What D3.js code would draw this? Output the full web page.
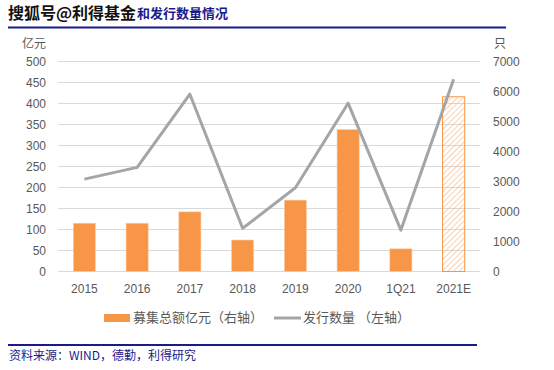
<!DOCTYPE html>
<html>
<head>
<meta charset="utf-8">
<script src="https://cdn.jsdelivr.net/npm/d3@7"></script>
<style>
  body { margin: 0; background: #fff; }
  svg { font-family: "Noto Sans CJK SC", "Noto Sans", sans-serif; }
</style>
</head>
<body>
<div id="chart"></div>
<script>
// data
var categories = ["2015", "2016", "2017", "2018", "2019", "2020", "1Q21", "2021E"];
var amount = [115, 115, 142, 75, 170, 338, 54, 416];          // 募集总额 亿元
var count = [3080, 3470, 5910, 1440, 2790, 5610, 1380, 6410]; // 发行数量 只
var leftTicks = [0, 50, 100, 150, 200, 250, 300, 350, 400, 450, 500];
var rightTicks = [0, 1000, 2000, 3000, 4000, 5000, 6000, 7000];

var W = 554, H = 370;
var plot = {left: 58, right: 480, top: 61.5, bottom: 271.5};

var svg = d3.select("#chart").append("svg")
    .attr("width", W).attr("height", H);

// hatch for the estimate bar
var defs = svg.append("defs");
defs.append("pattern")
    .attr("id", "hatch")
    .attr("patternUnits", "userSpaceOnUse")
    .attr("width", 4).attr("height", 4)
    .attr("patternTransform", "rotate(45)")
    .append("line")
    .attr("x1", 0).attr("y1", 0).attr("x2", 0).attr("y2", 4)
    .attr("stroke", "#f8b07a").attr("stroke-width", 1.2);

// watermark + visible part of the title
svg.append("text").attr("x", 8).attr("y", 19)
    .text("搜狐号@利得基金")
    .style("font-size", "16px").style("font-weight", "bold")
    .attr("fill", "#111").attr("stroke", "#fff").attr("stroke-width", 2.5)
    .attr("paint-order", "stroke");
svg.append("text").attr("x", 137).attr("y", 18)
    .text("和发行数量情况")
    .style("font-size", "13px").style("font-weight", "bold").attr("fill", "#1a1a8c");
svg.append("line").attr("x1", 8).attr("x2", 506).attr("y1", 27.5).attr("y2", 27.5)
    .attr("stroke", "#1a1a8c").attr("stroke-width", 2);

var x = d3.scaleBand()
    .domain(categories)
    .range([plot.left, plot.right])
    .paddingInner(0.58).paddingOuter(0.29);

var yL = d3.scaleLinear().domain([0, 500]).range([plot.bottom, plot.top]);
var yR = d3.scaleLinear().domain([0, 7000]).range([plot.bottom, plot.top]);

// grid
svg.append("g").selectAll("line")
    .data(leftTicks).join("line")
    .attr("x1", plot.left).attr("x2", plot.right)
    .attr("y1", function (d) { return yL(d); })
    .attr("y2", function (d) { return yL(d); })
    .attr("stroke", "#d9d9d9").attr("stroke-width", 1);

// left axis
var gL = svg.append("g")
    .attr("transform", "translate(" + (plot.left - 12) + ",0)")
    .call(d3.axisLeft(yL).tickValues(leftTicks).tickSize(0).tickPadding(0));
gL.select(".domain").remove();
gL.selectAll("text").attr("fill", "#595959").style("font-size", "12px");

// right axis
var gR = svg.append("g")
    .attr("transform", "translate(" + (plot.right + 13) + ",0)")
    .call(d3.axisRight(yR).tickValues(rightTicks).tickFormat(d3.format("d")).tickSize(0).tickPadding(0));
gR.select(".domain").remove();
gR.selectAll("text").attr("fill", "#595959").style("font-size", "12px");

// unit labels
svg.append("text").attr("x", 46).attr("y", 48).attr("text-anchor", "end")
    .text("亿元").style("font-size", "12px").attr("fill", "#595959");
svg.append("text").attr("x", 494).attr("y", 48)
    .text("只").style("font-size", "12px").attr("fill", "#595959");

// x labels
var gX = svg.append("g")
    .attr("transform", "translate(0," + (plot.bottom + 8) + ")")
    .call(d3.axisBottom(x).tickSize(0).tickPadding(5));
gX.select(".domain").remove();
gX.selectAll("text").attr("fill", "#595959").style("font-size", "12px");

// bars
svg.append("g").selectAll("rect")
    .data(amount).join("rect")
    .attr("x", function (d, i) { return x(categories[i]); })
    .attr("width", x.bandwidth())
    .attr("y", function (d) { return yL(d); })
    .attr("height", function (d) { return yL(0) - yL(d); })
    .attr("fill", function (d, i) { return categories[i] === "2021E" ? "url(#hatch)" : "#f79646"; })
    .attr("stroke", function (d, i) { return categories[i] === "2021E" ? "#f79646" : "#fbd1b0"; })
    .attr("stroke-width", function (d, i) { return categories[i] === "2021E" ? 1 : 0.6; });

// line
svg.append("path")
    .datum(count)
    .attr("fill", "none")
    .attr("stroke", "#a5a5a5")
    .attr("stroke-width", 3)
    .attr("stroke-linejoin", "round")
    .attr("d", d3.line()
        .x(function (d, i) { return x(categories[i]) + x.bandwidth() / 2; })
        .y(function (d) { return yR(d); }));

// legend
svg.append("rect").attr("x", 104).attr("y", 314).attr("width", 26).attr("height", 8).attr("fill", "#f79646");
svg.append("text").attr("x", 133).attr("y", 322).text("募集总额亿元（右轴）")
    .style("font-size", "13px").attr("fill", "#595959");
svg.append("line").attr("x1", 274).attr("x2", 301).attr("y1", 318).attr("y2", 318)
    .attr("stroke", "#a5a5a5").attr("stroke-width", 3);
svg.append("text").attr("x", 303).attr("y", 322).text("发行数量 （左轴）")
    .style("font-size", "13px").attr("fill", "#595959");

// source
svg.append("line").attr("x1", 8).attr("x2", 477).attr("y1", 345).attr("y2", 345)
    .attr("stroke", "#1a1a8c").attr("stroke-width", 2);
svg.append("text").attr("x", 9).attr("y", 360).text("资料来源：WIND，德勤，利得研究")
    .style("font-size", "12px").attr("fill", "#1a1a8c");
</script>
</body>
</html>
